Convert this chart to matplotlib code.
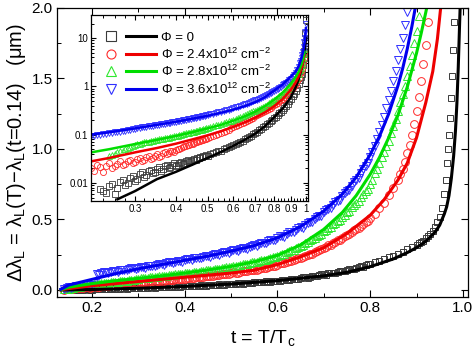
import numpy as np
import matplotlib
matplotlib.use("Agg")
import matplotlib.pyplot as plt
from matplotlib.lines import Line2D
from matplotlib.legend_handler import HandlerTuple
from matplotlib.ticker import (MultipleLocator, FixedLocator, FixedFormatter,
                               LogLocator, NullFormatter)

plt.rcParams["font.family"] = ["Liberation Sans", "DejaVu Sans"]
plt.rcParams["mathtext.fontset"] = "custom"
plt.rcParams["mathtext.rm"] = "Liberation Sans"

nan = np.nan

# ---------------- main panel: data points ----------------
T_GRID = [0.14, 0.15, 0.16, 0.17, 0.18, 0.19, 0.20, 0.21, 0.22, 0.23,
          0.24, 0.25, 0.26, 0.27, 0.28, 0.29, 0.30, 0.31, 0.32, 0.33,
          0.34, 0.35, 0.36, 0.37, 0.38, 0.39, 0.40, 0.41, 0.42, 0.43,
          0.44, 0.45, 0.46, 0.47, 0.48, 0.49, 0.50, 0.51, 0.52, 0.53,
          0.54, 0.55, 0.56, 0.57, 0.58, 0.59, 0.60, 0.61, 0.62, 0.63,
          0.64, 0.65, 0.66, 0.67, 0.68, 0.69, 0.70, 0.71, 0.72, 0.73,
          0.74, 0.75, 0.76, 0.77, 0.78, 0.79, 0.80]
T_MID = [0.145, 0.155, 0.165, 0.175, 0.185, 0.195, 0.205, 0.215, 0.225, 0.235,
         0.245, 0.255, 0.265, 0.275, 0.285, 0.295, 0.305, 0.315, 0.325, 0.335,
         0.345, 0.355, 0.365, 0.375, 0.385, 0.395, 0.405, 0.415, 0.425, 0.435,
         0.445, 0.455, 0.465, 0.475, 0.485, 0.495, 0.505, 0.515, 0.525, 0.535,
         0.545, 0.555, 0.565, 0.575, 0.585, 0.595, 0.605, 0.615, 0.625, 0.635,
         0.645, 0.655, 0.665, 0.675, 0.685, 0.695, 0.705, 0.715, 0.725, 0.735,
         0.745, 0.755, 0.765, 0.775, 0.785, 0.795]

black_low = [0.000, 0.002, 0.000, 0.004, 0.002, 0.005, 0.003, 0.006, 0.008, 0.005,
             0.009, 0.010, 0.008, 0.012, 0.011, 0.014, 0.013, 0.016, 0.015, 0.018,
             0.019, 0.018, 0.021, 0.022, 0.024, 0.023, 0.026, 0.027, 0.029, 0.030,
             0.031, 0.033, 0.035, 0.036, 0.038, 0.040, 0.042, 0.044, 0.046, 0.048,
             0.050, 0.053, 0.055, 0.058, 0.060, 0.063, 0.066, 0.069, 0.072, 0.075,
             0.080, 0.085, 0.090, 0.095, 0.100, 0.105, 0.111, 0.117, 0.123, 0.129,
             0.136, 0.143, 0.151, 0.159, 0.168, 0.177, 0.187]
black_mid = [0.004, 0.001, 0.003, 0.000, 0.006, 0.002, 0.007, 0.004, 0.009, 0.007,
             0.012, 0.007, 0.011, 0.009, 0.015, 0.011, 0.017, 0.013, 0.019, 0.016,
             0.021, 0.020, 0.019, 0.025, 0.022, 0.027, 0.025, 0.030, 0.028, 0.033,
             0.030, 0.036, 0.034, 0.039, 0.037, 0.043, 0.041, 0.047, 0.045, 0.051,
             0.049, 0.056, 0.054, 0.061, 0.059, 0.067, 0.065, 0.073, 0.071, 0.080,
             0.081, 0.090, 0.086, 0.100, 0.096, 0.110, 0.108, 0.122, 0.119, 0.134,
             0.131, 0.149, 0.146, 0.166, 0.162, 0.184]
black_tail_t = [0.81, 0.82, 0.83, 0.84, 0.85, 0.86, 0.87, 0.88, 0.89, 0.90,
                0.905, 0.91, 0.915, 0.92, 0.925, 0.93, 0.935, 0.94, 0.945, 0.95,
                0.955, 0.96, 0.963, 0.966, 0.968, 0.970, 0.972, 0.974, 0.976, 0.978,
                0.980, 0.982]
black_tail = [0.197, 0.208, 0.219, 0.231, 0.244, 0.258, 0.272, 0.287, 0.303, 0.320,
              0.330, 0.340, 0.350, 0.365, 0.380, 0.400, 0.420, 0.450, 0.480, 0.520,
              0.580, 0.680, 0.780, 0.900, 1.000, 1.100, 1.220, 1.360, 1.520, 1.700,
              1.900, 2.100]

red_low = [0.000, 0.004, 0.008, 0.011, 0.015, 0.018, 0.021, 0.024, 0.027, 0.030,
           0.033, 0.036, 0.039, 0.042, 0.045, 0.048, 0.051, 0.054, 0.057, 0.060,
           0.063, 0.066, 0.069, 0.072, 0.075, 0.078, 0.081, 0.084, 0.088, 0.091,
           0.095, 0.098, 0.102, 0.106, 0.110, 0.114, 0.118, 0.123, 0.128, 0.133,
           0.138, 0.144, 0.150, 0.157, 0.164, 0.172, 0.180, 0.189, 0.198, 0.208,
           0.218, 0.229, 0.241, 0.254, 0.268, 0.283, 0.299, 0.316, 0.334, 0.352,
           0.371, 0.391, 0.412, 0.434, 0.457, 0.481, 0.507]
red_mid = [0.004, 0.005, 0.012, 0.011, 0.019, 0.017, 0.025, 0.023, 0.031, 0.029,
           0.037, 0.035, 0.043, 0.041, 0.049, 0.047, 0.055, 0.053, 0.061, 0.059,
           0.067, 0.065, 0.073, 0.071, 0.079, 0.077, 0.085, 0.084, 0.092, 0.091,
           0.099, 0.098, 0.107, 0.106, 0.115, 0.114, 0.124, 0.123, 0.134, 0.133,
           0.144, 0.145, 0.157, 0.158, 0.171, 0.173, 0.188, 0.191, 0.207, 0.211,
           0.227, 0.233, 0.250, 0.258, 0.276, 0.287, 0.307, 0.320, 0.343, 0.357,
           0.381, 0.397, 0.423, 0.441, 0.469, 0.490]
red_tail_t = [0.81, 0.82, 0.83, 0.84, 0.85, 0.86, 0.865, 0.87, 0.875, 0.88,
              0.885, 0.89, 0.895, 0.90, 0.905, 0.91, 0.915, 0.92, 0.925, 0.93]
red_tail = [0.540, 0.580, 0.620, 0.670, 0.720, 0.780, 0.820, 0.860, 0.910, 0.970,
            1.030, 1.100, 1.180, 1.270, 1.370, 1.480, 1.600, 1.740, 1.900, 2.060]

green_low = [0.005, 0.010, 0.015, 0.020, 0.026, 0.031, 0.036, 0.041, 0.046, 0.050,
             0.054, 0.058, 0.062, 0.066, 0.070, 0.074, 0.078, 0.082, 0.086, 0.090,
             0.094, 0.098, 0.102, 0.106, 0.110, 0.114, 0.118, 0.122, 0.126, 0.130,
             0.135, 0.140, 0.145, 0.150, 0.155, 0.160, 0.165, 0.171, 0.177, 0.183,
             0.190, 0.197, 0.205, 0.213, 0.222, 0.232, 0.243, 0.255, 0.268, 0.283,
             0.298, 0.315, 0.333, 0.352, 0.372, 0.393, 0.416, 0.440, 0.465, 0.492,
             0.520, 0.550, 0.585, 0.620, 0.660, 0.700, 0.750]
green_mid = [0.009, 0.012, 0.019, 0.022, 0.030, 0.032, 0.040, 0.042, 0.050, 0.051,
             0.058, 0.059, 0.066, 0.067, 0.074, 0.075, 0.082, 0.083, 0.090, 0.091,
             0.098, 0.099, 0.106, 0.107, 0.114, 0.115, 0.122, 0.123, 0.130, 0.131,
             0.139, 0.141, 0.149, 0.151, 0.159, 0.161, 0.170, 0.172, 0.182, 0.184,
             0.195, 0.198, 0.210, 0.214, 0.228, 0.234, 0.250, 0.257, 0.276, 0.286,
             0.307, 0.320, 0.343, 0.358, 0.383, 0.400, 0.428, 0.447, 0.478, 0.499,
             0.535, 0.560, 0.603, 0.630, 0.680, 0.715]
green_tail_t = [0.805, 0.81, 0.815, 0.82, 0.825, 0.83, 0.835, 0.84, 0.845, 0.85,
                0.855, 0.86, 0.865, 0.87, 0.875, 0.88, 0.885, 0.89, 0.895, 0.90,
                0.905, 0.91]
green_tail = [0.780, 0.830, 0.860, 0.900, 0.940, 0.980, 1.020, 1.060, 1.110, 1.160,
              1.210, 1.270, 1.330, 1.390, 1.450, 1.520, 1.590, 1.670, 1.750, 1.840,
              1.940, 2.050]

blue_low = [0.010, 0.018, 0.022, 0.028, 0.032, 0.040, 0.048, 0.110, 0.118, 0.124,
            0.128, 0.133, 0.138, 0.143, 0.148, 0.153, 0.158, 0.163, 0.168, 0.173,
            0.178, 0.184, 0.189, 0.195, 0.200, 0.206, 0.212, 0.218, 0.224, 0.230,
            0.236, 0.242, 0.248, 0.255, 0.262, 0.269, 0.276, 0.283, 0.291, 0.299,
            0.307, 0.316, 0.325, 0.335, 0.345, 0.356, 0.368, 0.381, 0.395, 0.410,
            0.426, 0.443, 0.461, 0.481, 0.502, 0.525, 0.550, 0.576, 0.604, 0.634,
            0.666, 0.700, 0.740, 0.780, 0.830, 0.880, 0.940]
blue_mid = [0.016, 0.017, 0.027, 0.026, 0.038, 0.036, 0.052, 0.105, 0.124, 0.119,
            0.133, 0.128, 0.143, 0.138, 0.153, 0.148, 0.163, 0.158, 0.173, 0.168,
            0.184, 0.179, 0.195, 0.190, 0.206, 0.201, 0.218, 0.213, 0.230, 0.225,
            0.242, 0.237, 0.255, 0.250, 0.269, 0.264, 0.283, 0.278, 0.298, 0.294,
            0.315, 0.311, 0.334, 0.330, 0.355, 0.352, 0.380, 0.378, 0.408, 0.408,
            0.440, 0.441, 0.477, 0.480, 0.520, 0.527, 0.570, 0.580, 0.627, 0.640,
            0.690, 0.710, 0.765, 0.795, 0.860, 0.900]
blue_tail_t = [0.805, 0.81, 0.815, 0.82, 0.825, 0.83, 0.835, 0.84, 0.845, 0.85,
               0.855, 0.86, 0.865, 0.87, 0.875, 0.88, 0.885]
blue_tail = [0.980, 1.020, 1.070, 1.120, 1.170, 1.230, 1.290, 1.350, 1.410, 1.480,
             1.550, 1.630, 1.710, 1.790, 1.880, 1.970, 2.060]

# ---------------- main panel: fit curves ----------------
black_fit_t = [0.13, 0.2, 0.3, 0.4, 0.5, 0.6, 0.7, 0.75, 0.8, 0.85, 0.88, 0.9, 0.92,
               0.94, 0.95, 0.96, 0.965, 0.97, 0.975, 0.98, 0.984, 0.987, 0.99, 0.993, 0.995]
black_fit = [0.0, 0.003, 0.012, 0.025, 0.042, 0.066, 0.10, 0.125, 0.165, 0.22, 0.265,
             0.30, 0.345, 0.41, 0.46, 0.54, 0.59, 0.67, 0.79, 0.95, 1.13, 1.32, 1.58, 1.9, 2.1]

red_fit_t = [0.13, 0.15, 0.2, 0.25, 0.3, 0.35, 0.4, 0.45, 0.5, 0.55, 0.6, 0.65, 0.7,
             0.75, 0.8, 0.83, 0.86, 0.88, 0.9, 0.92, 0.935, 0.945, 0.952, 0.956]
red_fit = [0.0, 0.01, 0.03, 0.045, 0.06, 0.075, 0.09, 0.105, 0.12, 0.14, 0.18, 0.235,
           0.30, 0.40, 0.53, 0.64, 0.78, 0.90, 1.08, 1.33, 1.55, 1.78, 2.0, 2.1]

green_fit_t = [0.13, 0.15, 0.2, 0.25, 0.3, 0.35, 0.4, 0.45, 0.5, 0.55, 0.6, 0.65, 0.7,
               0.74, 0.77, 0.8, 0.82, 0.84, 0.86, 0.88, 0.9, 0.91, 0.92, 0.925]
green_fit = [0.0, 0.02, 0.045, 0.065, 0.082, 0.10, 0.12, 0.142, 0.167, 0.20, 0.245,
             0.32, 0.43, 0.55, 0.67, 0.82, 0.94, 1.08, 1.24, 1.44, 1.68, 1.82, 1.97, 2.05]

blue_fit_t = [0.13, 0.15, 0.2, 0.25, 0.3, 0.35, 0.4, 0.45, 0.5, 0.55, 0.6, 0.65, 0.7,
              0.74, 0.77, 0.8, 0.82, 0.84, 0.86, 0.87, 0.88, 0.89, 0.9]
blue_fit = [0.0, 0.035, 0.075, 0.115, 0.15, 0.18, 0.21, 0.24, 0.275, 0.315, 0.37, 0.45,
            0.56, 0.68, 0.80, 0.96, 1.09, 1.25, 1.45, 1.57, 1.71, 1.87, 2.05]

# ---------------- inset: data points (log-log) ----------------
INSET_T = [0.22, 0.23, 0.24, 0.25, 0.26, 0.27, 0.28, 0.29, 0.30, 0.31,
           0.32, 0.33, 0.34, 0.35, 0.36, 0.37, 0.38, 0.39, 0.40, 0.41,
           0.42, 0.43, 0.44, 0.45, 0.46, 0.47, 0.48, 0.49, 0.50, 0.51,
           0.52, 0.53, 0.54, 0.55, 0.56, 0.57, 0.58, 0.59, 0.60, 0.61,
           0.62, 0.63, 0.64, 0.65, 0.66, 0.67, 0.68, 0.69, 0.70, 0.71,
           0.72, 0.73, 0.74, 0.75, 0.76, 0.77, 0.78, 0.79, 0.80, 0.81,
           0.82, 0.83, 0.84, 0.85, 0.86, 0.87, 0.88, 0.89, 0.90, 0.91,
           0.92, 0.93, 0.94, 0.95, 0.96, 0.965, 0.97, 0.975, 0.98, 0.985,
           0.99, 0.993, 0.996, 0.999]
INSET_T_MID = [0.225, 0.235, 0.245, 0.255, 0.265, 0.275, 0.285, 0.295, 0.305, 0.315,
               0.325, 0.335, 0.345, 0.355, 0.365, 0.375, 0.385, 0.395, 0.405, 0.415,
               0.425, 0.435, 0.445, 0.455, 0.465, 0.475, 0.485, 0.495]

black_in = [nan, nan, 0.0068, 0.0085, 0.0060, 0.0105, 0.0090, 0.0125, 0.0110, 0.0150,
            0.0130, 0.0175, 0.0160, 0.0195, 0.0180, 0.0220, 0.0205, 0.0240, 0.0225, 0.0260,
            0.0250, 0.0280, 0.0275, 0.0305, 0.0300, 0.0330, 0.0340, 0.0355, 0.0370, 0.0390,
            0.0410, 0.0430, 0.0450, 0.0470, 0.0495, 0.0520, 0.0545, 0.0575, 0.0605, 0.0640,
            0.0675, 0.0715, 0.0755, 0.080, 0.085, 0.090, 0.096, 0.102, 0.109, 0.116,
            0.124, 0.133, 0.142, 0.152, 0.163, 0.175, 0.188, 0.202, 0.218, 0.236,
            0.256, 0.278, 0.30, 0.33, 0.36, 0.40, 0.44, 0.49, 0.55, 0.62,
            0.70, 0.80, 0.93, 1.1, 1.35, 1.55, 1.8, 2.2, 2.8, 3.8,
            5.5, 8.0, 13.0, 24.0]
black_in_mid = [nan, 0.0075, 0.0062, 0.0095, 0.0078, 0.0118, 0.0100, 0.0140, 0.0122, 0.0165,
                0.0145, 0.0188, 0.0170, 0.0210, 0.0195, 0.0232, 0.0218, 0.0255, 0.0240, 0.0272,
                0.0262, 0.0295, 0.0288, 0.0318, 0.0325, 0.0342, 0.0360, 0.0375]

red_in = [0.020, 0.024, 0.017, 0.026, 0.022, 0.028, 0.025, 0.030, 0.027, 0.033,
          0.030, 0.036, 0.033, 0.039, 0.037, 0.043, 0.041, 0.046, 0.048, 0.051,
          0.055, 0.058, 0.062, 0.065, 0.069, 0.073, 0.077, 0.081, 0.085, 0.090,
          0.095, 0.100, 0.105, 0.110, 0.116, 0.122, 0.128, 0.135, 0.142, 0.150,
          0.158, 0.166, 0.175, 0.184, 0.194, 0.204, 0.215, 0.226, 0.238, 0.251,
          0.264, 0.278, 0.293, 0.309, 0.326, 0.344, 0.363, 0.384, 0.406, 0.430,
          0.46, 0.49, 0.52, 0.56, 0.60, 0.65, 0.70, 0.76, 0.83, 0.91,
          1.0, 1.12, 1.27, 1.48, 1.8, 2.0, 2.3, 2.7, 3.2, 3.9,
          5.0, nan, nan, nan]
red_in_mid = [0.018, 0.021, 0.023, 0.020, 0.025, 0.024, 0.029, 0.026, 0.031, 0.028,
              0.034, 0.032, 0.037, 0.035, 0.041, 0.039, 0.045, 0.044, 0.050, 0.053,
              0.057, 0.060, 0.064, 0.067, 0.071, 0.075, 0.079, 0.083]

green_in = [nan, nan, nan, 0.036, 0.040, 0.045, 0.050, 0.055, 0.060, 0.065,
            0.069, 0.072, 0.075, 0.078, 0.081, 0.084, 0.087, 0.090, 0.094, 0.098,
            0.102, 0.106, 0.110, 0.114, 0.118, 0.123, 0.128, 0.133, 0.138, 0.143,
            0.149, 0.155, 0.161, 0.167, 0.174, 0.181, 0.188, 0.196, 0.204, 0.213,
            0.222, 0.232, 0.242, 0.253, 0.264, 0.276, 0.289, 0.302, 0.316, 0.331,
            0.347, 0.364, 0.382, 0.401, 0.421, 0.442, 0.465, 0.489, 0.515, 0.543,
            0.58, 0.62, 0.66, 0.71, 0.76, 0.82, 0.89, 0.96, 1.05, 1.15,
            1.26, 1.40, 1.58, 1.82, 2.2, 2.45, 2.8, 3.2, 3.8, 4.6,
            5.8, nan, nan, nan]
green_in_mid = [nan, nan, nan, 0.038, 0.043, 0.047, 0.053, 0.057, 0.063, 0.067,
                0.071, 0.074, 0.077, 0.080, 0.083, 0.086, 0.089, 0.092, 0.096, 0.100,
                0.104, 0.108, 0.112, 0.116, 0.121, 0.126, 0.131, 0.136]

blue_in = [0.092, 0.097, 0.102, 0.106, 0.111, 0.116, 0.121, 0.127, 0.133, 0.139,
           0.144, 0.149, 0.154, 0.159, 0.164, 0.169, 0.175, 0.181, 0.187, 0.193,
           0.199, 0.205, 0.212, 0.219, 0.226, 0.233, 0.241, 0.249, 0.257, 0.265,
           0.273, 0.282, 0.291, 0.300, 0.310, 0.320, 0.331, 0.342, 0.354, 0.366,
           0.379, 0.393, 0.407, 0.422, 0.438, 0.455, 0.473, 0.492, 0.512, 0.533,
           0.556, 0.580, 0.606, 0.633, 0.662, 0.693, 0.727, 0.763, 0.802, 0.845,
           0.89, 0.94, 0.99, 1.05, 1.11, 1.18, 1.26, 1.35, 1.45, 1.56,
           1.72, 1.92, 2.18, 2.52, 3.0, 3.35, 3.8, 4.4, 5.2, 6.4,
           8.2, 10.0, 13.5, 20.0]
blue_in_mid = [0.094, 0.100, 0.104, 0.109, 0.113, 0.119, 0.124, 0.130, 0.136, 0.141,
               0.147, 0.152, 0.157, 0.162, 0.167, 0.172, 0.178, 0.184, 0.190, 0.196,
               0.202, 0.209, 0.216, 0.223, 0.230, 0.237, 0.245, 0.253]

# ---------------- inset: fit curves ----------------
black_in_fit_t = [0.265, 0.3, 0.35, 0.4, 0.45, 0.5, 0.55, 0.6, 0.65, 0.7, 0.75, 0.8,
                  0.85, 0.9, 0.93, 0.95, 0.97, 0.98, 0.99, 0.995, 1.0]
black_in_fit = [0.0046, 0.0068, 0.012, 0.017, 0.024, 0.033, 0.044, 0.059, 0.078, 0.105,
                0.15, 0.23, 0.35, 0.6, 0.95, 1.4, 2.3, 3.3, 5.2, 7.0, 10.0]

FIT_IN_T = [0.22, 0.25, 0.3, 0.35, 0.4, 0.45, 0.5, 0.55, 0.6, 0.65, 0.7, 0.75, 0.8,
            0.85, 0.9, 0.93, 0.95, 0.97, 0.98, 0.99]
red_in_fit = [0.028, 0.033, 0.043, 0.053, 0.065, 0.08, 0.097, 0.118, 0.145, 0.18, 0.225,
              0.29, 0.39, 0.55, 0.85, 1.2, 1.6, 2.4, 3.1, 4.4]
green_in_fit = [0.043, 0.05, 0.064, 0.078, 0.094, 0.113, 0.135, 0.16, 0.195, 0.24, 0.3,
                0.39, 0.53, 0.75, 1.15, 1.55, 2.0, 2.9, 3.7, 5.2]
blue_in_fit_t = [0.22, 0.25, 0.3, 0.35, 0.4, 0.45, 0.5, 0.55, 0.6, 0.65, 0.7, 0.75, 0.8,
                 0.85, 0.9, 0.93, 0.95, 0.97, 0.98, 0.99, 0.995, 1.0]
blue_in_fit = [0.1, 0.112, 0.135, 0.16, 0.185, 0.215, 0.245, 0.285, 0.33, 0.39, 0.47,
               0.6, 0.82, 1.1, 1.6, 2.0, 2.6, 3.9, 5.1, 7.8, 10.5, 16.0]

labels = ["Φ = 0",
          r"Φ = 2.4x10$^\mathregular{12}$ cm$^\mathregular{-2}$",
          r"Φ = 2.8x10$^\mathregular{12}$ cm$^\mathregular{-2}$",
          r"Φ = 3.6x10$^\mathregular{12}$ cm$^\mathregular{-2}$"]

markers = ["s", "o", "^", "v"]
mark_colors = ["#3a3a3a", "#ff2a2a", "#2ee82e", "#3030ff"]
line_colors = ["#000000", "#ee0000", "#00dd00", "#0000ee"]


def style_ticks(ax, size, length):
    ax.tick_params(which="both", direction="in", top=True, right=True,
                   labelsize=size, pad=3)
    ax.tick_params(which="major", length=length, width=0.8)
    ax.tick_params(which="minor", length=length * 0.55, width=0.7)
    for s in ax.spines.values():
        s.set_linewidth(0.9)


def plot_main(ax):
    data = [(T_GRID + T_MID + black_tail_t, black_low + black_mid + black_tail,
             black_fit_t, black_fit),
            (T_GRID + T_MID + red_tail_t, red_low + red_mid + red_tail,
             red_fit_t, red_fit),
            (T_GRID + T_MID + green_tail_t, green_low + green_mid + green_tail,
             green_fit_t, green_fit),
            (T_GRID + T_MID + blue_tail_t, blue_low + blue_mid + blue_tail,
             blue_fit_t, blue_fit)]
    sizes = [5.0, 5.6, 5.8, 5.8]
    for i, (t, v, ft, fv) in enumerate(data):
        ax.plot(t, v, ls="none", marker=markers[i], mfc="none", mec=mark_colors[i],
                ms=sizes[i], mew=0.7)
    for i, (t, v, ft, fv) in enumerate(data):
        ax.plot(ft, fv, color=line_colors[i], lw=2.2, solid_capstyle="butt")

    ax.set_xlim(0.1245, 1.011)
    ax.set_ylim(-0.05, 2.0)
    ax.xaxis.set_major_locator(MultipleLocator(0.2))
    ax.xaxis.set_minor_locator(MultipleLocator(0.1))
    ax.yaxis.set_major_locator(MultipleLocator(0.5))
    ax.yaxis.set_minor_locator(MultipleLocator(0.25))
    style_ticks(ax, 11, 5)
    ax.set_xlabel(r"t = T/T$_\mathregular{c}$", fontsize=14, labelpad=9.5)
    ax.set_ylabel("Δλ$_\\mathregular{L}$ = λ$_\\mathregular{L}$(T)−λ$_\\mathregular{L}$(t=0.14)   (μm)",
                  fontsize=14.5)
    ax.yaxis.set_label_coords(-0.07, 0.5)


def plot_inset(ax):
    data = [(INSET_T + INSET_T_MID, black_in + black_in_mid, black_in_fit_t, black_in_fit),
            (INSET_T + INSET_T_MID, red_in + red_in_mid, FIT_IN_T, red_in_fit),
            (INSET_T + INSET_T_MID, green_in + green_in_mid, FIT_IN_T, green_in_fit),
            (INSET_T + INSET_T_MID, blue_in + blue_in_mid, blue_in_fit_t, blue_in_fit)]
    sizes = [4.0, 4.4, 4.4, 4.4]
    for i, (t, v, ft, fv) in enumerate(data):
        ax.plot(t, v, ls="none", marker=markers[i], mfc="none", mec=mark_colors[i],
                ms=sizes[i], mew=0.6)
    for i, (t, v, ft, fv) in enumerate(data):
        ax.plot(ft, fv, color=line_colors[i], lw=1.8)

    ax.set_xscale("log")
    ax.set_yscale("log")
    ax.set_xlim(0.22, 1.015)
    ax.set_ylim(0.00424, 30)
    xt = [0.3, 0.4, 0.5, 0.6, 0.7, 0.8, 0.9, 1.0]
    ax.xaxis.set_major_locator(FixedLocator(xt))
    ax.xaxis.set_major_formatter(FixedFormatter(["0.3", "0.4", "0.5", "0.6", "0.7",
                                                 "0.8", "0.9", "1"]))
    ax.xaxis.set_minor_locator(MultipleLocator(0.02))
    ax.xaxis.set_minor_formatter(NullFormatter())
    ax.yaxis.set_major_locator(FixedLocator([0.01, 0.1, 1, 10]))
    ax.yaxis.set_major_formatter(FixedFormatter(["0.01", "0.1", "1", "10"]))
    ax.yaxis.set_minor_locator(LogLocator(base=10, subs=np.arange(2, 10)))
    ax.yaxis.set_minor_formatter(NullFormatter())
    style_ticks(ax, 7, 3.5)
    ax.tick_params(pad=2)

    handles = []
    for i in range(4):
        mk = Line2D([], [], ls="none", marker=markers[i], mfc="none",
                    mec=mark_colors[i], ms=6.5, mew=0.8)
        ln = Line2D([], [], color=line_colors[i], lw=2.2)
        handles.append((mk, ln))
    ax.legend(handles, labels, handler_map={tuple: HandlerTuple(ndivide=2, pad=0)},
              loc="upper left", bbox_to_anchor=(0.0, 0.935), frameon=False,
              fontsize=9.5, handlelength=4.6, handletextpad=0.35,
              labelspacing=0.18, borderpad=0.35, borderaxespad=0.0)


fig = plt.figure(figsize=(4.74, 3.48), dpi=100)
ax = fig.add_axes([57 / 474, 1 - 297 / 348, 411 / 474, 289 / 348])
plot_main(ax)
ax_in = fig.add_axes([91 / 474, 1 - 201 / 348, 217 / 474, 186 / 348])
plot_inset(ax_in)
fig.savefig("out.png", dpi=100)
plt.close(fig)
